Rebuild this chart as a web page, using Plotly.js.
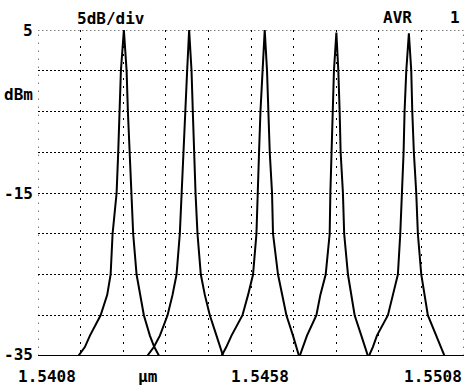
<!DOCTYPE html>
<html>
<head>
<meta charset="utf-8">
<script src="https://cdn.plot.ly/plotly-3.0.1.min.js"></script>
<style>html,body{margin:0;padding:0;background:#fff;}#chart{width:474px;height:391px;}</style>
</head>
<body>
<div id="chart"></div>
<script>
// Wavelength (µm) and power (dBm), one pair of arrays per peak
const peak1Wl = [1.541745,1.541900,1.542019,1.542270,1.542425,1.542505,1.542551,1.542645,1.542683,1.542706,1.542746,1.542816,1.542880,1.542910,1.542957,1.542997,1.543034,1.543114,1.543192,1.543285,1.543426,1.543530,1.543644];
const peak1Db = [-35,-33.9,-32.5,-30,-27.5,-25,-20,-15,-10,-5,0,5,0,-5,-10,-15,-20,-25,-27.5,-30,-32.5,-33.9,-35];

const peak2Wl = [1.543363,1.543520,1.543661,1.543841,1.543958,1.544052,1.544129,1.544169,1.544207,1.544247,1.544301,1.544348,1.544404,1.544434,1.544458,1.544498,1.544544,1.544622,1.544716,1.544833,1.544990,1.545070,1.545145];
const peak2Db = [-35,-33.9,-32.5,-30,-27.5,-25,-20,-15,-10,-5,0,5,0,-5,-10,-15,-20,-25,-27.5,-30,-32.5,-33.9,-35];

const peak3Wl = [1.545107,1.545220,1.545342,1.545600,1.545731,1.545848,1.545928,1.545951,1.545989,1.546022,1.546069,1.546122,1.546176,1.546200,1.546240,1.546294,1.546317,1.546434,1.546537,1.546631,1.546786,1.546860,1.546927];
const peak3Db = [-35,-33.9,-32.5,-30,-27.5,-25,-20,-15,-10,-5,0,5,0,-5,-10,-15,-20,-25,-27.5,-30,-32.5,-33.9,-35];

const peak4Wl = [1.546943,1.547020,1.547114,1.547335,1.547428,1.547553,1.547647,1.547663,1.547686,1.547710,1.547747,1.547804,1.547850,1.547881,1.547904,1.547958,1.547987,1.548076,1.548155,1.548233,1.548390,1.548470,1.548545];
const peak4Db = [-35,-33.9,-32.5,-30,-27.5,-25,-20,-15,-10,-5,0,4.7,0,-5,-10,-15,-20,-25,-27.5,-30,-32.5,-33.9,-35];

const peak5Wl = [1.548568,1.548660,1.548756,1.549014,1.549131,1.549248,1.549304,1.549351,1.549382,1.549405,1.549445,1.549506,1.549562,1.549586,1.549623,1.549679,1.549717,1.549797,1.549874,1.549951,1.550148,1.550250,1.550343];
const peak5Db = [-35,-33.9,-32.5,-30,-27.5,-25,-20,-15,-10,-5,0,4.6,0,-5,-10,-15,-20,-25,-27.5,-30,-32.5,-33.9,-35];

const xRange = [1.5408, 1.5508];
const yRange = [-35, 5];
const xTickLabels = ['1.5408', '1.5458', '1.5508'];
const yTickLabels = ['5', '-15', '-35'];
const unitX = 'µm';
const unitY = 'dBm';
const scaleText = '5dB/div';
const modeText = 'AVR';
const traceNo = '1';

const peaks = [[peak1Wl,peak1Db],[peak2Wl,peak2Db],[peak3Wl,peak3Db],[peak4Wl,peak4Db],[peak5Wl,peak5Db]];
const traces = peaks.map(p => ({
  x: p[0], y: p[1], type: 'scatter', mode: 'lines',
  line: {color: '#000', width: 2}, hoverinfo: 'skip', showlegend: false
}));

const W = 474, H = 391, L = 38, R = 9.5, T = 30, B = 35;
const pw = W - L - R, ph = H - T - B;
const px = v => (v - L) / pw;
const py = v => (H - B - v) / ph;
const fnt = {family: 'DejaVu Sans Mono', size: 16, color: '#000', weight: 'bold'};
function ann(text, x, y, xa) {
  return {text: text, xref: 'paper', yref: 'paper', x: px(x), y: py(y), xanchor: xa || 'center', yanchor: 'middle', showarrow: false, font: fnt};
}
const vDash = '1.5px,6.5px', hDash = '1.5px,2.5px';
function edge(x0, x1, y0, y1, dash) {
  return {type: 'line', xref: 'x', yref: 'y', x0: x0, x1: x1, y0: y0, y1: y1, layer: 'below', line: {color: '#000', width: 1, dash: dash}};
}

const layout = {
  width: W, height: H,
  margin: {l: L, r: R, t: T, b: B, pad: 0},
  paper_bgcolor: '#fff', plot_bgcolor: '#fff',
  showlegend: false,
  xaxis: {range: xRange, dtick: 0.001, tick0: 1.5408, showticklabels: false, ticks: '',
    showgrid: true, gridcolor: '#000', gridwidth: 1, griddash: vDash,
    zeroline: false, showline: false},
  yaxis: {range: yRange, dtick: 5, tick0: -35, showticklabels: false, ticks: '',
    showgrid: true, gridcolor: '#000', gridwidth: 1, griddash: hDash,
    zeroline: false, showline: false},
  shapes: [
    edge(xRange[0], xRange[0], yRange[0], yRange[1], vDash),
    edge(xRange[1], xRange[1], yRange[0], yRange[1], vDash),
    edge(xRange[0], xRange[1], yRange[1], yRange[1], hDash),
    {type: 'line', xref: 'x', yref: 'y', x0: xRange[0], x1: xRange[1], y0: yRange[0], y1: yRange[0], line: {color: '#000', width: 2}}
  ],
  annotations: [
    ann(scaleText, 111, 19),
    ann(modeText, 398, 18),
    ann(traceNo, 462, 18, 'right'),
    ann(yTickLabels[0], 35, 30, 'right'),
    ann(unitY, 35, 95, 'right'),
    ann(yTickLabels[1], 35, 193, 'right'),
    ann(yTickLabels[2], 35, 354, 'right'),
    ann(xTickLabels[0], 47, 376),
    ann(unitX, 148, 376),
    ann(xTickLabels[1], 260, 376),
    ann(xTickLabels[2], 464, 376, 'right')
  ]
};

Plotly.newPlot('chart', traces, layout, {staticPlot: true, displayModeBar: false});
</script>
</body>
</html>
